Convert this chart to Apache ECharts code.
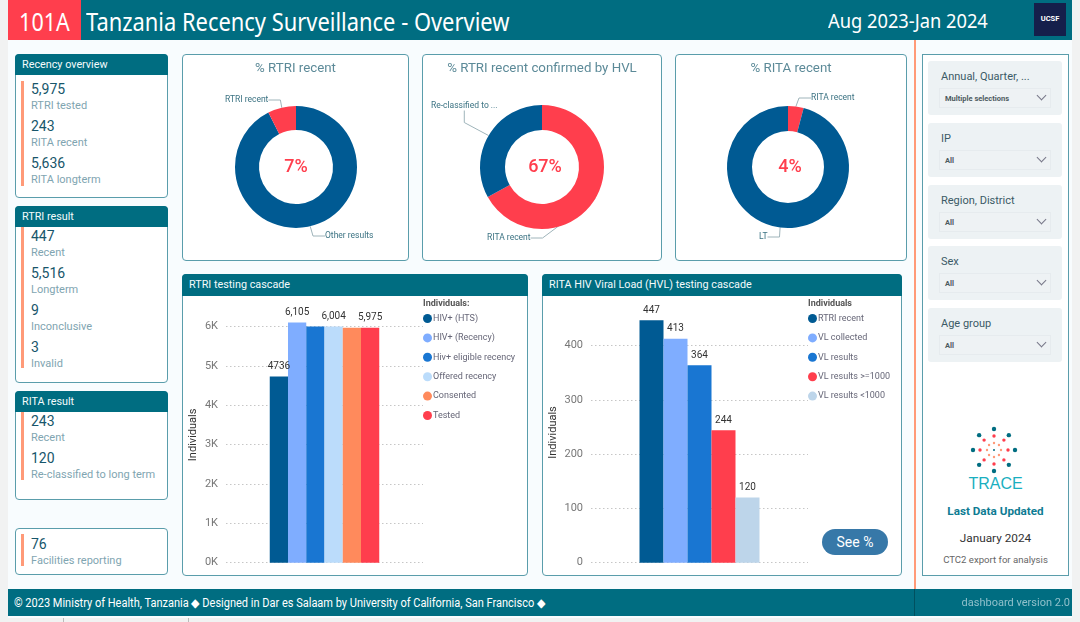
<!DOCTYPE html>
<html>
<head>
<meta charset="utf-8">
<script src="https://cdn.jsdelivr.net/npm/echarts@6/dist/echarts.min.js"></script>
<style>
html,body{margin:0;padding:0;width:1080px;height:622px;overflow:hidden;background:#f1f2f2;font-family:Roboto,sans-serif}
div{position:absolute;box-sizing:border-box;white-space:nowrap}
#page{left:8px;top:0;width:1064px;height:618px;background:#f8fcfe}
.bar{background:#006d81;color:#fff}
.panel{background:#fff;border:1px solid #5a9dab;border-radius:4px}
.head{background:#006d81;color:#f4fbfc;border-radius:4px 4px 0 0;font-size:10.8px;line-height:21px;padding-left:7px}
.stripe{background:#ff9a78;width:2.5px}
.num{font-size:14px;color:#17566b;line-height:16px}
.cap{font-size:11px;color:#7fa5b1;line-height:14px}
.slicer{left:928px;width:134px;height:54px;background:#edf2f4;border-radius:3px}
.slicer .t{left:13px;top:9px;font-size:11px;color:#3b5a66}
.slicer .box{left:11px;top:27px;width:112px;height:20px;background:#eef2f4;border:1px solid #e6ebee}
.slicer .v{left:5px;top:5px;font-size:7.5px;font-weight:700;color:#4d5a60}
.slicer .c{left:98px;top:3px;width:7px;height:7px;border-right:1px solid #778;border-bottom:1px solid #778;transform:rotate(45deg)}
</style>
</head>
<body>
<div id="page"></div>
<div class="bar" style="left:8px;top:0;width:1064px;height:40px"></div>
<div style="left:8px;top:0;width:73px;height:40px;background:#ff3e4d;color:#fff;font-size:25px;line-height:42px;text-align:center;font-family:'Noto Sans'"><span style="display:inline-block;transform:scaleX(.86)">101A</span></div>
<div style="left:86px;top:0;color:#fff;font-size:25px;line-height:42px;font-family:'Noto Sans';transform:scaleX(.876);transform-origin:left">Tanzania Recency Surveillance - Overview</div>
<div style="left:828px;top:0;color:#fff;font-size:20px;line-height:42px;font-family:'Noto Sans';transform:scaleX(.914);transform-origin:left">Aug 2023-Jan 2024</div>
<div style="left:1034px;top:3px;width:32px;height:33px;background:#151f4b;color:#fff;font-size:7.5px;font-weight:700;line-height:32px;text-align:center">UCSF</div>
<div style="left:914px;top:40px;width:1.5px;height:549px;background:#ff9a78"></div>

<div id="cards"></div>

<div class="panel" style="left:182px;top:54px;width:227px;height:207px"><div id="donut1" style="left:0;top:0;width:225px;height:205px"></div></div>
<div class="panel" style="left:422px;top:54px;width:240px;height:207px"><div id="donut2" style="left:0;top:0;width:238px;height:205px"></div></div>
<div class="panel" style="left:675px;top:54px;width:232px;height:207px"><div id="donut3" style="left:0;top:0;width:230px;height:205px"></div></div>

<div class="panel" style="left:182px;top:274px;width:346px;height:302px"></div>
<div class="head" style="left:182px;top:274px;width:346px;height:22px">RTRI testing cascade</div>
<div id="cascade1" style="left:183px;top:296px;width:344px;height:279px"></div>

<div class="panel" style="left:542px;top:274px;width:360px;height:302px"></div>
<div class="head" style="left:542px;top:274px;width:360px;height:22px">RITA HIV Viral Load (HVL) testing cascade</div>
<div id="cascade2" style="left:543px;top:296px;width:358px;height:279px"></div>
<div style="left:822px;top:529px;width:66px;height:26px;border-radius:13px;background:#3778a8;color:#fff;font-size:14px;line-height:27px;text-align:center">See %</div>

<div style="left:922px;top:54px;width:147px;height:522px;background:#fff;border:1px solid #5a9dab"></div>
<div id="slicers"></div>
<svg id="logo" width="60" height="60" style="position:absolute;left:964px;top:420px"></svg>
<div style="left:922px;width:147px;top:475px;text-align:center;font:16px 'Liberation Sans';color:#1aafc0">TRACE</div>
<div style="left:922px;width:147px;top:504px;text-align:center;font-size:11.7px;font-weight:700;color:#0e7c93">Last Data Updated</div>
<div style="left:922px;width:147px;top:531px;text-align:center;font-size:11.8px;color:#333">January 2024</div>
<div style="left:922px;width:147px;top:554px;text-align:center;font-size:9.6px;color:#666">CTC2 export for analysis</div>

<div class="bar" style="left:8px;top:589px;width:1064px;height:27px"></div>
<div style="left:14px;top:589px;color:#fff;font-size:12px;line-height:28px;transform:scaleX(.917);transform-origin:left">&copy; 2023 Ministry of Health, Tanzania &#9670; Designed in Dar es Salaam by University of California, San Francisco &#9670;</div>
<div style="left:914px;top:589px;width:1px;height:27px;background:#00505f"></div>
<div style="left:900px;top:589px;width:170px;text-align:right;font-size:11px;line-height:28px;color:#8fc0cb">dashboard version 2.0</div>
<div style="left:63px;top:618px;width:1px;height:4px;background:#bbb"></div>
<div style="left:188px;top:618px;width:1px;height:4px;background:#bbb"></div>

<script>
// values
var overviewStats = [['5,975','RTRI tested'],['243','RITA recent'],['5,636','RITA longterm']];
var rtriStats = [['447','Recent'],['5,516','Longterm'],['9','Inconclusive'],['3','Invalid']];
var ritaStats = [['243','Recent'],['120','Re-classified to long term']];
var facilityStats = [['76','Facilities reporting']];

var donut1Names = ['Other results','RTRI recent'];
var donut1Values = [5528,447];
var donut2Names = ['RITA recent','Re-classified to ...'];
var donut2Values = [243,120];
var donut3Names = ['RITA recent','LT'];
var donut3Values = [243,5636];

var rtriNames = ['HIV+ (HTS)','HIV+ (Recency)','Hiv+ eligible recency','Offered recency','Consented','Tested'];
var rtriValues = [4736,6105,6004,6004,5975,5975];
var rtriLabels = ['4736','6,105','','6,004','','5,975'];

var hvlNames = ['RTRI recent','VL collected','VL results','VL results >=1000','VL results <1000'];
var hvlValues = [447,413,364,244,120];

var slicerTitles = ['Annual, Quarter, ...','IP','Region, District','Sex','Age group'];
var slicerValues = ['Multiple selections','All','All','All','All'];

var DARK='#005a93', LIGHT='#7fadff', BLUE='#1976d2', PALE='#bbdcfb', ORANGE='#ff8a5c', RED='#ff3e4d', MIST='#bdd5ea';
var FONT='Roboto';

// left hand cards
function card(top,height,title,stats,firstTop,stripeTop,stripeH){
    var html='<div class="panel" style="left:15px;top:'+top+'px;width:153px;height:'+height+'px"></div>';
    if(title) html+='<div class="head" style="left:15px;top:'+top+'px;width:153px;height:21px">'+title+'</div>';
    html+='<div class="stripe" style="left:21px;top:'+stripeTop+'px;height:'+stripeH+'px"></div>';
    stats.forEach(function(s,i){
        var y=firstTop+i*37;
        html+='<div class="num" style="left:31px;top:'+(y-8)+'px">'+s[0]+'</div>';
        html+='<div class="cap" style="left:31px;top:'+(y+10)+'px">'+s[1]+'</div>';
    });
    return html;
}
document.getElementById('cards').innerHTML=
    card(54,144,'Recency overview',overviewStats,89,81,105)+
    card(206,177,'RTRI result',rtriStats,236,227,141)+
    card(391,109,'RITA result',ritaStats,421,412,68)+
    card(528,47,'',facilityStats,544,534,32);

// filter column
var slicerHtml='';
slicerTitles.forEach(function(t,i){
    var y=61+i*61.8;
    slicerHtml+='<div class="slicer" style="top:'+y+'px"><div class="t">'+t+'</div><div class="box"><div class="v">'+slicerValues[i]+'</div><div class="c"></div></div></div>';
});
document.getElementById('slicers').innerHTML=slicerHtml;

// TRACE logo
var logoHtml='<circle cx="30" cy="30" r="1" fill="#006d81"/>';
[[21,2.2,'#006d81'],[14,1.7,'#ff3e4d'],[7,1.2,'#ff9a78']].forEach(function(ring){
    for(var k=0;k<8;k++){
        var a=k*Math.PI/4;
        logoHtml+='<circle cx="'+(30+ring[0]*Math.cos(a))+'" cy="'+(30+ring[0]*Math.sin(a))+'" r="'+ring[1]+'" fill="'+ring[2]+'"/>';
    }
});
document.getElementById('logo').innerHTML=logoHtml;

// donuts
function donut(id,title,pct,names,values,colors,cx,radius,places,textX){
    var chart=echarts.init(document.getElementById(id));
    chart.setOption({
        animation:false,
        title:{text:title,left:'center',top:2,textStyle:{fontFamily:FONT,fontSize:13.3,fontWeight:'normal',color:'#5c8a98'}},
        graphic:[{type:'text',x:textX,y:112,style:{text:pct,align:'center',verticalAlign:'middle',fontFamily:FONT,fontSize:18,fontWeight:500,fill:RED}}],
        series:[{
            type:'pie',
            startAngle:90,
            center:[cx,112],
            radius:radius,
            color:colors,
            data:names.map(function(n,i){return {name:n,value:values[i]};}),
            silent:true,
            label:{fontFamily:FONT,fontSize:8.5,color:'#3c7383',overflow:'none'},
            labelLine:{length:6,length2:12,lineStyle:{color:'#9fb4ba'}},
            labelLayout:function(p){
                return places[p.dataIndex];
            }
        }]
    });
}
donut('donut1','% RTRI recent','7%',donut1Names,donut1Values,[DARK,RED],113,[37,61],
    [{x:142,y:181,align:'left',verticalAlign:'middle'},{x:42,y:45,align:'left',verticalAlign:'middle'}],113);
donut('donut2','% RTRI recent confirmed by HVL','67%',donut2Names,donut2Values,[RED,DARK],119,[37,62],
    [{x:64,y:183,align:'left',verticalAlign:'middle'},{x:8,y:51,align:'left',verticalAlign:'middle'}],122);
donut('donut3','% RITA recent','4%',donut3Names,donut3Values,[RED,DARK],112,[36,61],
    [{x:135,y:43,align:'left',verticalAlign:'middle'},{x:83,y:182,align:'left',verticalAlign:'middle'}],114);

// bar cascades, one series per step so the legend can list them
function cascade(id,names,values,labels,colors,legendTitle,barW,yMax,fmt,g,legendLeft){
    var chart=echarts.init(document.getElementById(id));
    chart.setOption({
        animation:false,
        title:{text:legendTitle,left:legendLeft,top:-2,textStyle:{fontFamily:FONT,fontSize:9,fontWeight:'bold',color:'#555'}},
        legend:{
            orient:'vertical',left:legendLeft,top:13,icon:'circle',itemWidth:9,itemHeight:9,itemGap:10.4,
            textStyle:{fontFamily:FONT,fontSize:9,color:'#667',padding:[0,0,0,-4]},
            data:names
        },
        grid:g,
        xAxis:{type:'category',data:[''],axisLine:{show:false},axisTick:{show:false},axisLabel:{show:false}},
        yAxis:{
            type:'value',min:0,max:yMax[0],interval:yMax[1],
            name:'Individuals',nameLocation:'middle',nameGap:yMax[2],nameMoveOverlap:false,
            nameTextStyle:{fontFamily:FONT,fontSize:11,color:'#333'},
            axisLabel:{formatter:fmt,fontFamily:FONT,fontSize:11,color:'#777',showMaxLabel:false,margin:8},
            splitLine:{showMaxLine:false,lineStyle:{type:[1.5,2.5],color:'#c6c6c6'}}
        },
        series:names.map(function(n,i){
            return {
                name:n,type:'bar',barWidth:barW,barGap:0,
                itemStyle:{color:colors[i]},
                label:{show:labels[i]!=='',position:'top',distance:5,formatter:labels[i],fontFamily:FONT,fontSize:10,color:'#333'},
                data:[values[i]]
            };
        })
    });
}
cascade('cascade1',rtriNames,rtriValues,rtriLabels,[DARK,LIGHT,BLUE,PALE,ORANGE,RED],'Individuals:',18.25,[6500,1000,27],
    function(v){return v/1000+'K';},{left:43,right:104,top:11,bottom:12.3,outerBoundsMode:'none'},235);
cascade('cascade2',hvlNames,hvlValues,hvlValues.map(String),[DARK,LIGHT,BLUE,RED,MIST],'Individuals',24,[480,100,32],
    function(v){return v;},{left:48,right:93,top:6.3,bottom:12.3,outerBoundsMode:'none'},260);
</script>
</body>
</html>
